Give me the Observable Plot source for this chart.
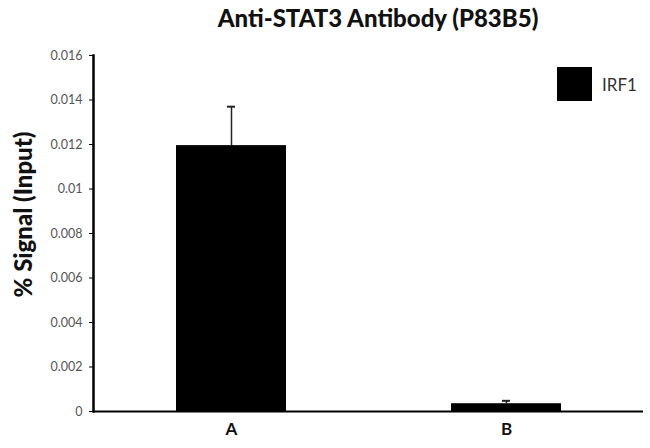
<!DOCTYPE html>
<html>
<head>
<meta charset="utf-8">
<script src="https://cdn.jsdelivr.net/npm/d3@7"></script>
<script src="https://cdn.jsdelivr.net/npm/@observablehq/plot@0.6"></script>
<style>
  html, body { margin: 0; padding: 0; background: #fff; }
  #wrap { position: relative; width: 650px; height: 448px; font-family: Lato, "Open Sans", sans-serif; }
  #title { position: absolute; left: 93px; width: 570px; top: 3px; text-align: center; font-weight: 900; font-size: 24px; color: #111; }
  #legend { position: absolute; left: 557px; top: 67px; display: flex; align-items: center; }
  #legend .sw { width: 35px; height: 34px; background: #000; }
  #legend .lb { margin-left: 10px; font-size: 17px; color: #333; }
  #chart { position: absolute; left: 0; top: 0; }
</style>
</head>
<body>
<div id="wrap">
  <div id="chart"></div>
  <div id="title">Anti-STAT3 Antibody (P83B5)</div>
  <div id="legend"><div class="sw"></div><div class="lb">IRF1</div></div>
</div>
<script>
const categories = ["A", "B"];
const values = [0.01195, 0.00035];
const errors = [0.00175, 0.00013];
const yTicks = [0, 0.002, 0.004, 0.006, 0.008, 0.01, 0.012, 0.014, 0.016];
const yLabel = "% Signal (Input)";

const data = categories.map((c, i) => ({cat: c, value: values[i], err: errors[i], top: values[i] + errors[i]}));

const chart = Plot.plot({
  width: 650,
  height: 448,
  marginLeft: 93,
  marginRight: 7,
  marginTop: 55,
  marginBottom: 37,
  style: {fontFamily: "Lato, 'Open Sans', sans-serif", background: "#fff"},
  x: {domain: categories, paddingInner: 0.6, paddingOuter: 0.3, label: null},
  y: {domain: [0, 0.016], label: null},
  marks: [
    Plot.barY(data, {x: "cat", y: "value", fill: "#000"}),
    Plot.ruleX(data, {x: "cat", y1: "value", y2: "top", stroke: "#222", strokeWidth: 1.5}),
    Plot.tickY(data, {x: "cat", y: "top", stroke: "#222", strokeWidth: 2, insetLeft: 51, insetRight: 51}),
    Plot.axisY({ticks: yTicks, tickSize: 4, tickPadding: 7, tickFormat: d => String(+d.toFixed(3)), fontSize: 12.5, fill: "#555", label: null}),
    Plot.text([yLabel], {frameAnchor: "left", textAnchor: "middle", lineAnchor: "middle", rotate: -90, dx: -69, dy: -19, fontSize: 24, fontWeight: 900, fill: "#111"}),
    Plot.frame({anchor: "left", stroke: "#000", strokeWidth: 2.5}),
    Plot.ruleY([0], {stroke: "#000", strokeWidth: 2}),
    Plot.axisX({tickSize: 0, tickPadding: 11, fontSize: 17, fontWeight: "bold", fill: "#111", label: null})
  ]
});
document.getElementById("chart").appendChild(chart);
</script>
</body>
</html>
